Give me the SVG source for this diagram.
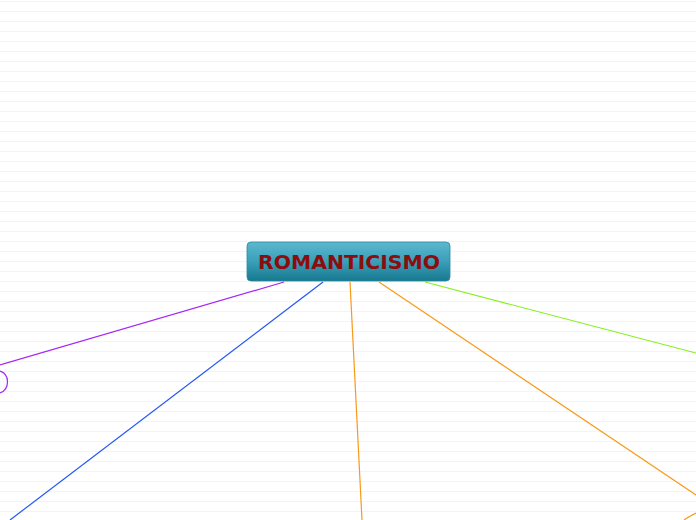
<svg xmlns="http://www.w3.org/2000/svg" width="696" height="520" viewBox="0 0 696 520">
<defs>
<pattern id="bg" x="0" y="0" width="696" height="10" patternUnits="userSpaceOnUse">
<rect x="0" y="0" width="696" height="10" fill="#ffffff"/>
<rect x="0" y="1" width="696" height="1" fill="#f4f4f4"/>
</pattern>
<linearGradient id="g" x1="0" y1="0" x2="0" y2="1">
<stop offset="0" stop-color="#5cb8ce"/>
<stop offset="0.5" stop-color="#3a9fb8"/>
<stop offset="1" stop-color="#17798f"/>
</linearGradient>
<style>
.c{fill:none;stroke-width:1.2}
.t{font-family:"DejaVu Sans",Verdana,sans-serif;font-weight:bold;font-size:19.5px;fill:#8b0d0d}
</style>
</defs>
<rect width="696" height="520" fill="url(#bg)"/>
<g id="connectors">
<path class="c" stroke="#a526f5" d="M284,282 L0,365"/>
<path class="c" stroke="#a526f5" d="M0,371 C10,374 10,389 0,393"/>
<path class="c" stroke="#2457f5" d="M323,282 L10,520"/>
<path class="c" stroke="#f79a1a" d="M350,282 L362,520"/>
<path class="c" stroke="#f79a1a" d="M379,282 L696,495"/>
<path class="c" stroke="#f79a1a" d="M684,520 C688,517 692,515 696,513"/>
<path class="c" stroke="#86f01e" d="M425,282 L696,353"/>
</g>
<g id="romanticismo">
<rect x="247" y="242" width="203" height="39" rx="4" ry="4" fill="url(#g)" stroke="#2a8aa2" stroke-width="0.8"/>
<text class="t" x="258" y="269" textLength="182" lengthAdjust="spacingAndGlyphs">ROMANTICISMO</text>
</g>
</svg>
